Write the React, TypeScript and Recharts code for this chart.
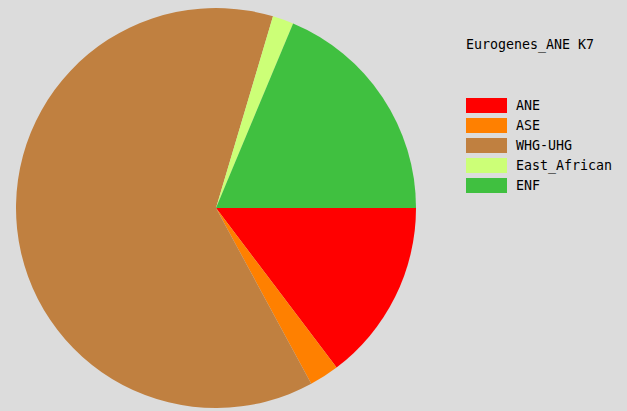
import { Cell, Legend, Pie, PieChart } from "recharts";

const categories = ["ANE", "ASE", "WHG-UHG", "East_African", "ENF"];
const shares = [14.7, 2.4, 62.5, 1.7, 18.7];
const colors = ["#ff0000", "#ff8000", "#c08040", "#ccff77", "#40c040"];
const title = "Eurogenes_ANE K7";

const data = categories.map((name, i) => ({ name, value: shares[i] }));

if (typeof document !== "undefined") {
  document.body.style.margin = "0";
}

const mono = '"DejaVu Sans Mono", monospace';

function KeyBox() {
  return (
    <div style={{ fontFamily: mono, fontSize: 13.3, color: "#000" }}>
      <div style={{ height: 20, lineHeight: "20px", marginBottom: 40 }}>{title}</div>
      {data.map((d, i) => (
        <div
          key={d.name}
          style={{ display: "flex", alignItems: "center", height: 20 }}
        >
          <span
            style={{
              display: "inline-block",
              width: 41,
              height: 15,
              background: colors[i],
              marginRight: 9,
            }}
          />
          <span style={{ lineHeight: "15px" }}>{d.name}</span>
        </div>
      ))}
    </div>
  );
}

export default function App() {
  return (
    <div style={{ width: 627, height: 411, background: "#dcdcdc" }}>
      <PieChart width={627} height={411} margin={{ top: 0, right: 0, bottom: 0, left: 0 }}>
        <Pie
          data={data}
          dataKey="value"
          nameKey="name"
          cx={216}
          cy={208}
          outerRadius={200}
          startAngle={0}
          endAngle={-360}
          stroke="none"
          isAnimationActive={false}
        >
          {data.map((d, i) => (
            <Cell key={d.name} fill={colors[i]} />
          ))}
        </Pie>
        <Legend
          layout="vertical"
          content={() => <KeyBox />}
          wrapperStyle={{ left: 466, top: 35, width: 160 }}
        />
      </PieChart>
    </div>
  );
}
